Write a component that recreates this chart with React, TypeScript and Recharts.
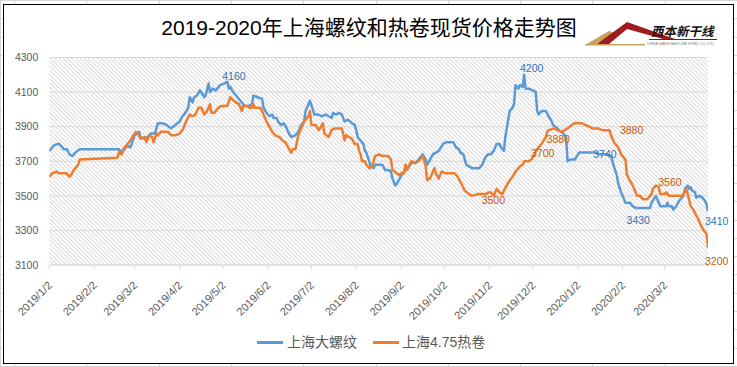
import React from 'react';
import { LineChart, Line, XAxis, YAxis, CartesianGrid } from 'recharts';

// ---------- data ----------
const tickDates = [
  '2019/1/2', '2019/2/2', '2019/3/2', '2019/4/2', '2019/5/2', '2019/6/2', '2019/7/2', '2019/8/2',
  '2019/9/2', '2019/10/2', '2019/11/2', '2019/12/2', '2020/1/2', '2020/2/2', '2020/3/2',
];
const yTicks = [3100, 3300, 3500, 3700, 3900, 4100, 4300];
const seriesNames = ['上海大螺纹', '上海4.75热卷'];

// 上海大螺纹 (date, price)
const rebar: [string, number][] = [
  ['2019/1/2', 3760], ['2019/1/5', 3790], ['2019/1/8', 3800], ['2019/1/9', 3800], ['2019/1/12', 3770],
  ['2019/1/14', 3770], ['2019/1/16', 3740], ['2019/1/18', 3730], ['2019/1/20', 3750], ['2019/1/23', 3770],
  ['2019/2/19', 3770], ['2019/2/21', 3750], ['2019/2/23', 3770], ['2019/2/25', 3790], ['2019/2/27', 3780],
  ['2019/3/2', 3850], ['2019/3/5', 3870], ['2019/3/6', 3840], ['2019/3/9', 3830], ['2019/3/11', 3840],
  ['2019/3/13', 3860], ['2019/3/16', 3860], ['2019/3/18', 3920], ['2019/3/21', 3920], ['2019/3/24', 3910],
  ['2019/3/27', 3890], ['2019/3/30', 3910], ['2019/4/2', 3930], ['2019/4/4', 3960], ['2019/4/6', 3980],
  ['2019/4/8', 4010], ['2019/4/9', 4070], ['2019/4/11', 4040], ['2019/4/12', 4070], ['2019/4/14', 4080],
  ['2019/4/16', 4110], ['2019/4/17', 4100], ['2019/4/19', 4070], ['2019/4/20', 4080], ['2019/4/22', 4150],
  ['2019/4/23', 4100], ['2019/4/25', 4120], ['2019/4/27', 4110], ['2019/4/29', 4130], ['2019/4/30', 4140],
  ['2019/5/3', 4150], ['2019/5/5', 4160], ['2019/5/6', 4120], ['2019/5/7', 4130], ['2019/5/9', 4100],
  ['2019/5/10', 4090], ['2019/5/12', 4070], ['2019/5/14', 4050], ['2019/5/16', 4030], ['2019/5/17', 4020],
  ['2019/5/20', 4020], ['2019/5/22', 4030], ['2019/5/23', 4080], ['2019/5/26', 4070], ['2019/5/29', 4060],
  ['2019/5/30', 4010], ['2019/6/1', 3980], ['2019/6/3', 3960], ['2019/6/5', 3970], ['2019/6/6', 3950],
  ['2019/6/8', 3950], ['2019/6/9', 3930], ['2019/6/11', 3910], ['2019/6/13', 3920], ['2019/6/15', 3890],
  ['2019/6/16', 3870], ['2019/6/18', 3840], ['2019/6/21', 3850], ['2019/6/23', 3870], ['2019/6/25', 3910],
  ['2019/6/27', 3930], ['2019/6/28', 3990], ['2019/6/30', 4030], ['2019/7/1', 4050], ['2019/7/3', 4000],
  ['2019/7/4', 3970], ['2019/7/7', 3970], ['2019/7/9', 3960], ['2019/7/12', 3970], ['2019/7/14', 3960],
  ['2019/7/16', 3950], ['2019/7/17', 3980], ['2019/7/19', 3970], ['2019/7/21', 3980], ['2019/7/23', 3970],
  ['2019/7/24', 3950], ['2019/7/25', 3930], ['2019/7/27', 3940], ['2019/7/29', 3930], ['2019/7/30', 3920],
  ['2019/8/1', 3910], ['2019/8/2', 3880], ['2019/8/3', 3840], ['2019/8/5', 3820], ['2019/8/7', 3800],
  ['2019/8/8', 3760], ['2019/8/9', 3750], ['2019/8/11', 3700], ['2019/8/12', 3670], ['2019/8/14', 3660],
  ['2019/8/15', 3680], ['2019/8/20', 3680], ['2019/8/22', 3650], ['2019/8/24', 3650], ['2019/8/26', 3640],
  ['2019/8/27', 3600], ['2019/8/29', 3560], ['2019/8/30', 3570], ['2019/9/1', 3600], ['2019/9/3', 3630],
  ['2019/9/5', 3650], ['2019/9/7', 3660], ['2019/9/9', 3690], ['2019/9/12', 3690], ['2019/9/14', 3710],
  ['2019/9/17', 3740], ['2019/9/19', 3710], ['2019/9/20', 3680], ['2019/9/22', 3710], ['2019/9/24', 3740],
  ['2019/9/26', 3750], ['2019/9/28', 3760], ['2019/10/1', 3800], ['2019/10/3', 3810], ['2019/10/8', 3810],
  ['2019/10/10', 3780], ['2019/10/12', 3770], ['2019/10/13', 3750], ['2019/10/15', 3740], ['2019/10/17', 3680],
  ['2019/10/19', 3670], ['2019/10/21', 3660], ['2019/10/26', 3660], ['2019/10/28', 3680], ['2019/10/30', 3720],
  ['2019/11/1', 3740], ['2019/11/3', 3740], ['2019/11/5', 3760], ['2019/11/7', 3800], ['2019/11/9', 3800],
  ['2019/11/10', 3780], ['2019/11/12', 3760], ['2019/11/13', 3840], ['2019/11/15', 3940], ['2019/11/16', 3990],
  ['2019/11/18', 4010], ['2019/11/19', 4030], ['2019/11/20', 4140], ['2019/11/22', 4120], ['2019/11/23', 4140],
  ['2019/11/25', 4130], ['2019/11/26', 4200], ['2019/11/27', 4120], ['2019/11/29', 4120], ['2019/12/2', 4110],
  ['2019/12/4', 4100], ['2019/12/5', 3990], ['2019/12/6', 3970], ['2019/12/8', 3990], ['2019/12/11', 3990],
  ['2019/12/13', 3960], ['2019/12/15', 3930], ['2019/12/16', 3910], ['2019/12/19', 3890], ['2019/12/20', 3880],
  ['2019/12/23', 3860], ['2019/12/25', 3840], ['2019/12/26', 3700], ['2019/12/28', 3710], ['2019/12/31', 3710],
  ['2020/1/3', 3750], ['2020/1/11', 3750], ['2020/1/14', 3750], ['2020/1/17', 3740], ['2020/1/20', 3740],
  ['2020/1/22', 3740], ['2020/1/25', 3730], ['2020/1/27', 3670], ['2020/1/29', 3620], ['2020/1/30', 3570],
  ['2020/2/1', 3520], ['2020/2/3', 3480], ['2020/2/4', 3460], ['2020/2/7', 3460], ['2020/2/9', 3440],
  ['2020/2/11', 3430], ['2020/2/14', 3430], ['2020/2/21', 3430], ['2020/2/22', 3460], ['2020/2/25', 3500],
  ['2020/2/26', 3480], ['2020/2/28', 3440], ['2020/3/1', 3440], ['2020/3/3', 3440], ['2020/3/4', 3460],
  ['2020/3/5', 3440], ['2020/3/7', 3440], ['2020/3/8', 3420], ['2020/3/10', 3440], ['2020/3/12', 3470],
  ['2020/3/14', 3490], ['2020/3/15', 3500], ['2020/3/16', 3540], ['2020/3/18', 3560], ['2020/3/19', 3540],
  ['2020/3/20', 3550], ['2020/3/21', 3530], ['2020/3/23', 3520], ['2020/3/24', 3490], ['2020/3/26', 3500],
  ['2020/3/28', 3490], ['2020/3/30', 3470], ['2020/3/31', 3450], ['2020/4/1', 3410],
];

// 上海4.75热卷 (date, price)
const hotCoil: [string, number][] = [
  ['2019/1/2', 3610], ['2019/1/4', 3630], ['2019/1/7', 3640], ['2019/1/9', 3630], ['2019/1/14', 3630],
  ['2019/1/16', 3610], ['2019/1/17', 3620], ['2019/1/19', 3650], ['2019/1/20', 3660], ['2019/1/22', 3680],
  ['2019/1/23', 3710], ['2019/2/18', 3720], ['2019/2/19', 3750], ['2019/2/21', 3740], ['2019/2/22', 3770],
  ['2019/2/25', 3800], ['2019/2/27', 3820], ['2019/3/1', 3850], ['2019/3/3', 3870], ['2019/3/5', 3850],
  ['2019/3/6', 3830], ['2019/3/9', 3840], ['2019/3/10', 3810], ['2019/3/12', 3850], ['2019/3/14', 3840],
  ['2019/3/15', 3810], ['2019/3/17', 3860], ['2019/3/18', 3850], ['2019/3/20', 3870], ['2019/3/25', 3870],
  ['2019/3/27', 3850], ['2019/3/30', 3850], ['2019/4/2', 3860], ['2019/4/4', 3880], ['2019/4/5', 3900],
  ['2019/4/7', 3940], ['2019/4/9', 3970], ['2019/4/11', 3960], ['2019/4/13', 3970], ['2019/4/15', 4010],
  ['2019/4/17', 4010], ['2019/4/19', 3970], ['2019/4/21', 3990], ['2019/4/23', 4030], ['2019/4/24', 3980],
  ['2019/4/26', 3980], ['2019/4/29', 4010], ['2019/5/1', 4020], ['2019/5/5', 4020], ['2019/5/7', 4070],
  ['2019/5/8', 4060], ['2019/5/11', 4040], ['2019/5/13', 4030], ['2019/5/15', 3990], ['2019/5/16', 4020],
  ['2019/5/19', 4020], ['2019/5/20', 4010], ['2019/5/22', 4010], ['2019/5/23', 4030], ['2019/5/24', 4010],
  ['2019/5/28', 4010], ['2019/5/29', 3990], ['2019/6/1', 3930], ['2019/6/3', 3900], ['2019/6/5', 3870],
  ['2019/6/7', 3850], ['2019/6/10', 3840], ['2019/6/12', 3820], ['2019/6/14', 3810], ['2019/6/16', 3780],
  ['2019/6/18', 3750], ['2019/6/19', 3770], ['2019/6/21', 3770], ['2019/6/23', 3850], ['2019/6/25', 3890],
  ['2019/6/27', 3930], ['2019/6/30', 3960], ['2019/7/1', 3990], ['2019/7/2', 3910], ['2019/7/5', 3910],
  ['2019/7/7', 3880], ['2019/7/8', 3890], ['2019/7/10', 3920], ['2019/7/11', 3860], ['2019/7/14', 3840],
  ['2019/7/16', 3880], ['2019/7/18', 3890], ['2019/7/23', 3890], ['2019/7/24', 3860], ['2019/7/25', 3820],
  ['2019/7/26', 3850], ['2019/7/28', 3840], ['2019/7/30', 3830], ['2019/8/1', 3800], ['2019/8/3', 3800],
  ['2019/8/4', 3760], ['2019/8/5', 3740], ['2019/8/6', 3700], ['2019/8/8', 3700], ['2019/8/9', 3680],
  ['2019/8/11', 3660], ['2019/8/13', 3670], ['2019/8/14', 3700], ['2019/8/15', 3730], ['2019/8/18', 3740],
  ['2019/8/20', 3730], ['2019/8/24', 3730], ['2019/8/26', 3710], ['2019/8/27', 3650], ['2019/8/30', 3630],
  ['2019/9/1', 3620], ['2019/9/2', 3630], ['2019/9/4', 3630], ['2019/9/5', 3680], ['2019/9/6', 3650],
  ['2019/9/9', 3700], ['2019/9/12', 3690], ['2019/9/14', 3700], ['2019/9/17', 3730], ['2019/9/18', 3700],
  ['2019/9/19', 3670], ['2019/9/20', 3590], ['2019/9/22', 3600], ['2019/9/23', 3620], ['2019/9/25', 3660],
  ['2019/9/26', 3630], ['2019/9/28', 3600], ['2019/9/30', 3640], ['2019/10/3', 3630], ['2019/10/6', 3630],
  ['2019/10/9', 3630], ['2019/10/11', 3610], ['2019/10/13', 3580], ['2019/10/16', 3530], ['2019/10/19', 3510],
  ['2019/10/21', 3500], ['2019/10/25', 3510], ['2019/10/28', 3510], ['2019/10/31', 3510], ['2019/11/1', 3520],
  ['2019/11/3', 3520], ['2019/11/5', 3500], ['2019/11/7', 3540], ['2019/11/9', 3520], ['2019/11/11', 3510],
  ['2019/11/12', 3530], ['2019/11/14', 3560], ['2019/11/16', 3590], ['2019/11/18', 3610], ['2019/11/20', 3640],
  ['2019/11/23', 3670], ['2019/11/25', 3680], ['2019/11/26', 3700], ['2019/11/29', 3700], ['2019/12/1', 3710],
  ['2019/12/3', 3740], ['2019/12/5', 3770], ['2019/12/8', 3800], ['2019/12/11', 3840], ['2019/12/12', 3870],
  ['2019/12/13', 3880], ['2019/12/17', 3890], ['2019/12/19', 3880], ['2019/12/22', 3870], ['2019/12/24', 3880],
  ['2019/12/26', 3890], ['2019/12/29', 3910], ['2019/12/31', 3920], ['2020/1/2', 3920], ['2020/1/5', 3920],
  ['2020/1/7', 3910], ['2020/1/10', 3900], ['2020/1/12', 3890], ['2020/1/16', 3890], ['2020/1/19', 3880],
  ['2020/1/24', 3880], ['2020/1/25', 3850], ['2020/1/27', 3810], ['2020/1/30', 3780], ['2020/2/1', 3740],
  ['2020/2/4', 3710], ['2020/2/5', 3620], ['2020/2/7', 3590], ['2020/2/9', 3560], ['2020/2/10', 3540],
  ['2020/2/12', 3500], ['2020/2/14', 3500], ['2020/2/16', 3480], ['2020/2/19', 3480], ['2020/2/20', 3490],
  ['2020/2/22', 3510], ['2020/2/23', 3540], ['2020/2/25', 3560], ['2020/2/27', 3550], ['2020/2/28', 3510],
  ['2020/3/2', 3510], ['2020/3/3', 3520], ['2020/3/5', 3500], ['2020/3/14', 3500], ['2020/3/16', 3520],
  ['2020/3/17', 3540], ['2020/3/18', 3510], ['2020/3/20', 3440], ['2020/3/22', 3420], ['2020/3/23', 3400],
  ['2020/3/25', 3370], ['2020/3/27', 3330], ['2020/3/29', 3300], ['2020/3/30', 3290], ['2020/3/31', 3280],
  ['2020/4/1', 3200],
];

// dates whose values carry a data label
const rebarLabelDates = ['2019/5/5', '2019/11/26', '2020/1/22', '2020/2/14', '2020/4/1'];
const coilLabelDates = ['2019/11/5', '2019/11/29', '2019/12/13', '2020/1/24', '2020/2/25', '2020/4/1'];

// ---------- styling ----------
const BLUE = '#5B9BD5';
const ORANGE = '#ED7D31';
const BLUE_TEXT = '#2E75B6';
const ORANGE_TEXT = '#C55A11';
const AXIS_TEXT = '#595959';
const NUM_FONT = '"Liberation Sans", Arial, sans-serif';
const CJK_FONT = '"Liberation Sans", "Noto Sans CJK SC", sans-serif';

// label offsets (pixels, relative to the point) — presentation only
const rebarLabelOffset: Record<string, [number, number]> = {
  '2019/5/5': [6.6, -5.8],
  '2019/11/26': [7.5, -6.5],
  '2020/1/22': [-1.7, -0.5],
  '2020/2/14': [-1.7, 11.7],
  '2020/4/1': [8.7, 9.3],
};
const coilLabelOffset: Record<string, [number, number]> = {
  '2019/11/5': [-0.4, 4.4],
  '2019/11/29': [14.2, -8.5],
  '2019/12/13': [9.5, 8.7],
  '2020/1/24': [22, -0.3],
  '2020/2/25': [14, -3],
  '2020/4/1': [8.7, 13],
};

const START = Date.UTC(2019, 0, 2);
const toDay = (s: string) => {
  const [y, m, d] = s.split('/').map(Number);
  return Math.round((Date.UTC(y, m - 1, d) - START) / 86400000);
};

const rebarData = rebar.map(([date, v]) => ({ t: toDay(date), v, date }));
const coilData = hotCoil.map(([date, v]) => ({ t: toDay(date), v, date }));
const xTicks = tickDates.map(toDay);
const tickLabel: Record<number, string> = {};
tickDates.forEach((d) => { tickLabel[toDay(d)] = d; });
const lastDay = Math.max(toDay(rebar[rebar.length - 1][0]), toDay(hotCoil[hotCoil.length - 1][0]));

const XTick = (props: any) => {
  const { x, y, payload } = props;
  const ax = x + 3.5;
  const ay = y + 15;
  return (
    <text
      x={ax}
      y={ay}
      transform={`rotate(-45 ${ax} ${ay})`}
      textAnchor="end"
      fontSize={11}
      fill={AXIS_TEXT}
      fontFamily={NUM_FONT}
    >
      {tickLabel[payload.value]}
    </text>
  );
};

const makeLabel = (
  data: { date: string; v: number }[],
  dates: string[],
  offsets: Record<string, [number, number]>,
  color: string,
) => (props: any) => {
  const { x, y, index } = props;
  const row = data[index];
  if (!row || !dates.includes(row.date)) return <g />;
  const [dx, dy] = offsets[row.date] || [0, -10];
  return (
    <text
      key={`lbl-${row.date}-${color}`}
      x={x + dx}
      y={y + dy + 4}
      textAnchor="middle"
      fontSize={10.5}
      fill={color}
      fontFamily={NUM_FONT}
    >
      {row.v}
    </text>
  );
};

export default function App() {
  return (
    <div
      style={{
        position: 'absolute',
        left: 0,
        top: 0,
        width: 737,
        height: 367,
        overflow: 'hidden',
        background: '#fff',
        backgroundImage:
          'repeating-linear-gradient(90deg, #d4d4d4 0 1px, transparent 1px 72.3px), repeating-linear-gradient(180deg, #d4d4d4 0 1px, transparent 1px 18.3px)',
        backgroundPosition: '14px 0, 0 0',
      }}
    >
      <svg width={0} height={0} style={{ position: 'absolute' }}>
        <defs>
          <pattern id="hatch" width={3} height={3} patternUnits="userSpaceOnUse" patternTransform="rotate(-45)">
            <rect width={3} height={3} fill="#ffffff" />
            <line x1={0.5} y1={0} x2={0.5} y2={3} stroke="#dadada" strokeWidth={1} />
          </pattern>
        </defs>
      </svg>

      {/* chart frame */}
      <div
        style={{
          position: 'absolute',
          left: 3,
          top: 4,
          width: 731,
          height: 360,
          boxSizing: 'border-box',
          border: '1px solid #000',
          background: '#fff',
        }}
      />

      {/* title */}
      <div
        style={{
          position: 'absolute',
          left: 0,
          top: 17,
          width: 738,
          textAlign: 'center',
          fontSize: 21,
          lineHeight: '21px',
          fontFamily: CJK_FONT,
          color: '#000',
          whiteSpace: 'nowrap',
        }}
      >
        2019-2020年上海螺纹和热卷现货价格走势图
      </div>

      {/* logo */}
      <svg style={{ position: 'absolute', left: 583, top: 17 }} width={138} height={32}>
        <polygon points="2,28 26,14 32,16 12,28" fill="#C9A25A" />
        <rect x={2} y={27} width={60} height={1.5} fill="#C9A25A" />
        <polygon points="14,27 44,5 92,22 80,22 44,12 26,27" fill="#9E1B20" />
        <text x={68} y={19} fontSize={12.5} fontWeight="bold" fontStyle="italic" fill="#111" fontFamily='"Noto Sans CJK SC", sans-serif'>
          西本新干线
        </text>
        <line x1={66} y1={22.5} x2={134} y2={22.5} stroke="#333" strokeWidth={1} />
        <text x={64} y={28} fontSize={3.5} fill="#777" fontFamily={NUM_FONT}>
          CHINA XIBEN NEW LINE STEEL CO.,LTD.
        </text>
      </svg>

      <div style={{ position: 'absolute', left: 0, top: 0 }}>
        <LineChart width={737} height={367} margin={{ top: 57.5, right: 29, bottom: 42, left: 0.3 }}>
          <CartesianGrid vertical={false} stroke="#D9D9D9" fill="url(#hatch)" />
          <XAxis
            dataKey="t"
            type="number"
            domain={[0, lastDay]}
            ticks={xTicks}
            interval={0}
            tick={<XTick />}
            tickSize={4}
            height={60}
            stroke="#D9D9D9"
            allowDataOverflow
          />
          <YAxis
            type="number"
            domain={[3100, 4300]}
            ticks={yTicks}
            width={49}
            axisLine={false}
            tickLine={false}
            tickMargin={5}
            interval={0}
            tick={{ fontSize: 10.5, fill: AXIS_TEXT, fontFamily: NUM_FONT }}
          />
          <Line
            data={rebarData}
            dataKey="v"
            name={seriesNames[0]}
            stroke={BLUE}
            strokeWidth={2.5}
            dot={false}
            strokeLinejoin="round"
            isAnimationActive={false}
            label={makeLabel(rebarData, rebarLabelDates, rebarLabelOffset, BLUE_TEXT)}
          />
          <Line
            data={coilData}
            dataKey="v"
            name={seriesNames[1]}
            stroke={ORANGE}
            strokeWidth={2.5}
            dot={false}
            strokeLinejoin="round"
            isAnimationActive={false}
            label={makeLabel(coilData, coilLabelDates, coilLabelOffset, ORANGE_TEXT)}
          />
        </LineChart>
      </div>

      {/* legend */}
      <div style={{ position: 'absolute', left: 257, top: 341, width: 26, height: 2.5, background: BLUE }} />
      <div
        style={{
          position: 'absolute', left: 287, top: 335, fontSize: 14, lineHeight: '14px',
          fontFamily: CJK_FONT, color: AXIS_TEXT, whiteSpace: 'nowrap',
        }}
      >
        {seriesNames[0]}
      </div>
      <div style={{ position: 'absolute', left: 373, top: 341, width: 26, height: 2.5, background: ORANGE }} />
      <div
        style={{
          position: 'absolute', left: 402, top: 335, fontSize: 14, lineHeight: '14px',
          fontFamily: CJK_FONT, color: AXIS_TEXT, whiteSpace: 'nowrap',
        }}
      >
        {seriesNames[1]}
      </div>
    </div>
  );
}
